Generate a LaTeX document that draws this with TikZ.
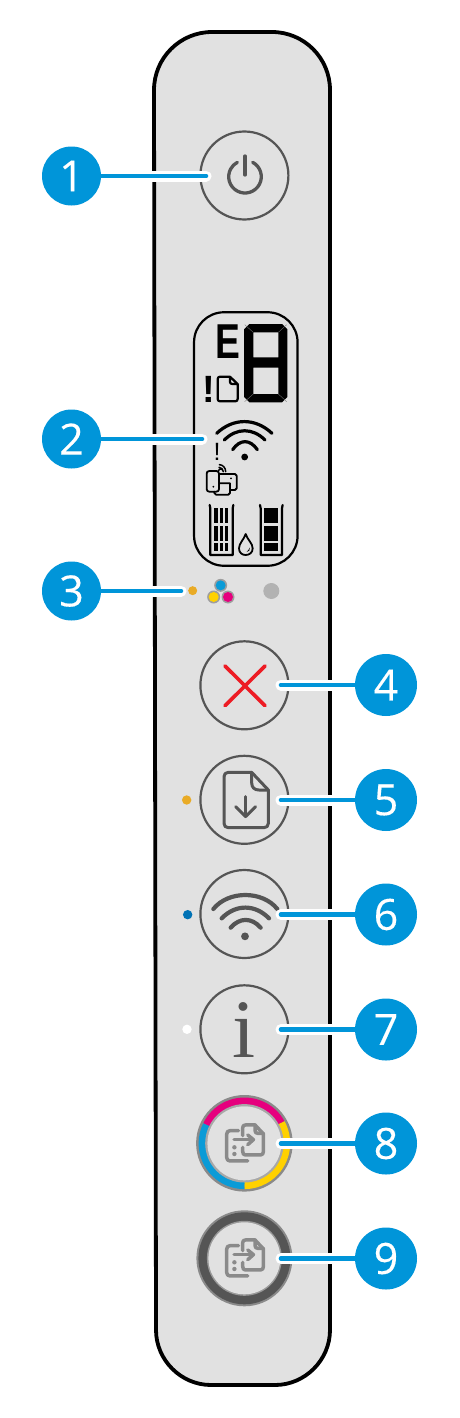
\documentclass[tikz,border=0pt]{standalone}
\usepackage{fontspec}
\newfontfamily\numfont[FakeBold=0.3]{Open Sans}
\newfontfamily\lcdfont{Liberation Sans}
\newfontfamily\infofont{Liberation Serif}
\definecolor{panelgrey}{HTML}{E1E1E1}
\definecolor{icongrey}{HTML}{555555}
\definecolor{copygrey}{HTML}{8A8A8A}
\definecolor{leadblue}{HTML}{0095D9}
\definecolor{inkorange}{HTML}{E9AB26}
\definecolor{inkcyan}{HTML}{0B9BD7}
\definecolor{inkyellow}{HTML}{FFD100}
\definecolor{inkmagenta}{HTML}{E6007E}
\definecolor{wifiblue}{HTML}{0072B5}
\definecolor{xred}{HTML}{ED1C24}
\pgfdeclarelayer{under}
\pgfdeclarelayer{lead}
\pgfsetlayers{under,lead,main}
\tikzset{
  bubbleL/.style={circle,fill=leadblue,minimum size=59pt,inner sep=0pt,text=white,font=\numfont\fontsize{43}{43}\selectfont},
  bubbleR/.style={circle,fill=leadblue,minimum size=62pt,inner sep=0pt,text=white,font=\numfont\fontsize{43}{43}\selectfont},
  btn/.style={circle,draw=icongrey,line width=2.2pt,minimum size=88pt,inner sep=0pt},
  ringbtn/.style={circle,minimum size=74pt,inner sep=0pt},
  halo/.style={draw=white,line width=11pt,line cap=round},
  leader/.style={draw=leadblue,line width=4.6pt,line cap=round},
  iconline/.style={draw=icongrey,line width=3pt,line cap=round,line join=round},
  copyline/.style={draw=copygrey,line width=3.5pt,line cap=round,line join=round},
  lcdline/.style={draw=black,line width=2.2pt,line cap=round,line join=round},
  zoomed/.style={x=0.33333pt,y=-0.33333pt},
}
\newcommand{\copyicon}[1]{%
  \begin{scope}[shift={(#1)},zoomed,shift={(-223,-173)}]
    \draw[copyline] (205,135) -- (180,135) .. controls (174,135) and (170,139) .. (170,145) -- (170,216) .. controls (170,222) and (174,226) .. (180,226) -- (233,226);
    \draw[copyline] (218,150) -- (218,126) .. controls (218,121) and (221,118) .. (226,118) -- (255,118) -- (280,145) -- (280,198) .. controls (280,204) and (277,208) .. (271,208) -- (226,208) .. controls (221,208) and (218,204) .. (218,198) -- (218,185);
    \draw[copyline] (255,118) -- (255,135) .. controls (255,140) and (258,143) .. (263,143) -- (280,143);
    \draw[copyline] (192,162) -- (250,162);
    \draw[copyline] (233,148) -- (250,162) -- (233,177);
    \fill[copygrey] (193,185) circle[radius=2.2pt] (193,205) circle[radius=2.2pt];
  \end{scope}}
\begin{document}
\begin{tikzpicture}[x=1pt,y=-1pt]
\useasboundingbox (0,0) rectangle (459,1418);
% numbered bubbles
\node[bubbleL] (n1) at (71.5,176) {1};
\node[bubbleL] (n2) at (71.5,439) {2};
\node[bubbleL] (n3) at (71.5,591) {3};
\node[bubbleR] (n4) at (386,685) {4};
\node[bubbleR] (n5) at (386,800) {5};
\node[bubbleR] (n6) at (386,914.5) {6};
\node[bubbleR] (n7) at (386,1029.5) {7};
\node[bubbleR] (n8) at (386,1143.5) {8};
\node[bubbleR] (n9) at (386,1258.5) {9};
\coordinate (e1) at (206,176);
\coordinate (e2) at (202,439);
\coordinate (e3) at (181,591);
\coordinate (e4) at (281,685);
\coordinate (e5) at (281,800);
\coordinate (e6) at (281,914.5);
\coordinate (e7) at (281,1029.5);
\coordinate (e8) at (281,1143.5);
\coordinate (e9) at (281,1258.5);
\begin{pgfonlayer}{under}
  \fill[white] (0,0) rectangle (459,1418);
  % panel
  \draw[draw=black,line width=3.8pt,fill=panelgrey] (154,90) .. controls (154,58) and (180,32) .. (212,32) -- (272,32) .. controls (304,32) and (330,58) .. (330,90) -- (330,1330) .. controls (330,1360) and (305,1385) .. (275,1385) -- (211,1385) .. controls (181,1385) and (156,1360) .. (156,1330) -- cycle;
  % buttons
  \node[btn] (b1) at (244.4,175.5) {};
  \node[btn] (b4) at (244.4,685.3) {};
  \node[btn] (b5) at (244.4,799.8) {};
  \node[btn] (b6) at (244.4,914) {};
  \node[btn] (b7) at (244.4,1029.3) {};
  \node[ringbtn] (b8) at (244.4,1143.3) {};
  \node[ringbtn] (b9) at (244.4,1258.3) {};
  % power
  \begin{scope}[shift={(245,176.7)}]
    \draw[iconline,line width=3.3pt] (62:16.3pt) arc[start angle=62,end angle=-242,radius=16.3pt];
  \end{scope}
  \draw[iconline,line width=3.3pt] (245,156) -- (245,175);
  % cancel
  \draw[draw=xred,line width=3.6pt,line cap=round] (225,666) -- (265,705.7) (265,666) -- (225,705.7);
  % resume document
  \begin{scope}[shift={(170,740)},zoomed]
    \draw[iconline] (245,97) -- (175,97) .. controls (167,97) and (162,102) .. (162,110) -- (162,250) .. controls (162,258) and (167,263) .. (175,263) -- (282,263) .. controls (290,263) and (295,258) .. (295,250) -- (295,150) -- (245,97);
    \draw[iconline] (245,97) -- (245,128) .. controls (245,142) and (253,150) .. (267,150) -- (295,150);
    \draw[iconline] (227,170) -- (227,230);
    \draw[iconline] (197,200) -- (227,230) -- (257,200);
    \fill[inkorange] (50,180) circle[radius=4.7pt];
  \end{scope}
  % wireless
  \begin{scope}[shift={(170,860)},zoomed]
    \draw[iconline,line width=4.2pt] (130,147) .. controls (175,91) and (277,91) .. (322,147);
    \draw[iconline,line width=4.2pt] (155,175) .. controls (197,132) and (255,132) .. (297,175);
    \draw[iconline,line width=4.2pt] (182,203) .. controls (209,172) and (245,172) .. (272,203);
    \fill[icongrey] (225,229) circle[radius=3.9pt];
    \fill[wifiblue] (53,164) circle[radius=4.7pt];
  \end{scope}
  % information
  \node[anchor=base,inner sep=0pt,text=icongrey,font=\infofont\fontsize{83}{83}\selectfont] (infoi) at (244.4,1057.7) {i};
  \fill[white] (187,1029.3) circle[radius=4.7pt];
  % colour copy
  \begin{scope}[shift={(b8.center)}]
    \fill[copygrey] (0,0) circle[radius=48.3pt];
    \draw[inkmagenta,line width=7pt] (154:42.3pt) arc[start angle=154,end angle=29,radius=42.3pt];
    \draw[inkyellow,line width=7pt] (29:42.3pt) arc[start angle=29,end angle=-90,radius=42.3pt];
    \draw[inkcyan,line width=7pt] (-90:42.3pt) arc[start angle=-90,end angle=-206,radius=42.3pt];
    \draw[draw=black!34,line width=2.4pt] (0,0) circle[radius=38pt];
    \fill[panelgrey] (0,0) circle[radius=37pt];
  \end{scope}
  \copyicon{b8.center}
  % black copy
  \begin{scope}[shift={(b9.center)}]
    \fill[copygrey] (0,0) circle[radius=48pt];
    \fill[icongrey] (0,0) circle[radius=46pt];
    \fill[black!40] (0,0) circle[radius=37.5pt];
    \fill[panelgrey] (0,0) circle[radius=36pt];
  \end{scope}
  \copyicon{b9.center}
  % display
  \node[draw=black,line width=2.2pt,rounded corners=30pt,minimum width=103.5pt,minimum height=253.5pt,inner sep=0pt] (lcd) at (245.8,439) {};
  \node[anchor=base west,inner sep=0pt,font=\lcdfont\bfseries\fontsize{49}{49}\selectfont] (lcdE) at (215.5,358) {\scalebox{0.76}[1]{E}};
  \node[anchor=base,inner sep=0pt,font=\lcdfont\bfseries\fontsize{38}{38}\selectfont] (lcdbang) at (209,402) {!};
  \node[anchor=base,inner sep=0pt,font=\lcdfont\fontsize{25}{25}\selectfont] (wifibang) at (217,460) {!};
  \begin{scope}[shift={(170,300)},zoomed]
    % seven-segment digit
    \fill[black,even odd rule] (238,72) -- (336,72) -- (352,88) -- (352,291) -- (336,307) -- (238,307) -- (222,291) -- (222,88) -- cycle (250,97) -- (250,172) -- (325,172) -- (325,97) -- cycle (250,203) -- (250,282) -- (325,282) -- (325,203) -- cycle;
    \draw[black!55,line width=0.35pt] (224,74) -- (250,97) (350,74) -- (325,97) (224,305) -- (250,282) (350,305) -- (325,282);
    % page glyph
    \draw[lcdline] (180,230) -- (150,230) .. controls (146,230) and (143,233) .. (143,237) -- (143,297) .. controls (143,301) and (146,304) .. (150,304) -- (196,304) .. controls (200,304) and (203,301) .. (203,297) -- (203,252) -- (180,230) -- (180,246) .. controls (180,250) and (183,252) .. (187,252) -- (203,252);
    % wifi glyph
    \draw[lcdline,line width=3.2pt] (140,400) .. controls (190,353) and (256,353) .. (306,400);
    \draw[lcdline,line width=3.2pt] (163,420) .. controls (200,383) and (248,383) .. (285,420);
    \draw[lcdline,line width=3.2pt] (188,449) .. controls (210,417) and (240,417) .. (262,449);
    \fill[black] (224,471) circle[radius=3.4pt];
    % dots under the display
    \fill[inkorange] (68,872) circle[radius=4.5pt];
    \fill[black!38] (152,856) circle[radius=6.5pt] (131,891) circle[radius=6.5pt] (174,891) circle[radius=6.5pt];
    \fill[inkcyan] (152,856) circle[radius=5pt];
    \fill[inkyellow] (131,891) circle[radius=5pt];
    \fill[inkmagenta] (174,891) circle[radius=5pt];
    \fill[black!30] (304,873) circle[radius=8pt];
  \end{scope}
  \begin{scope}[shift={(195,460)},zoomed]
    % devices glyph
    \draw[lcdline,line width=1.8pt] (43,33) -- (64,33) .. controls (69,33) and (72,36) .. (72,41) -- (72,87) .. controls (72,92) and (69,95) .. (64,95) -- (43,95) .. controls (38,95) and (35,92) .. (35,87) -- (35,41) .. controls (35,36) and (38,33) .. (43,33);
    \draw[lcdline,line width=1.8pt] (72,42) -- (120,42) .. controls (123,42) and (125,44) .. (125,47) -- (125,85) .. controls (125,88) and (123,90) .. (120,90) -- (105,90);
    \draw[lcdline,line width=1.8pt] (72,70) -- (105,70) -- (105,99) .. controls (105,102) and (103,104) .. (100,104) -- (63,104) .. controls (60,104) and (58,102) .. (58,99) -- (58,95);
    \fill[black] (55,80) circle[radius=1pt] (108,55) circle[radius=1pt];
    \draw[lcdline,line width=1.5pt] (70,33) .. controls (71,27) and (76,25) .. (80,28);
    \draw[lcdline,line width=1.5pt] (72,22) .. controls (78,22) and (85,28) .. (85,35);
    \draw[lcdline,line width=1.5pt] (73,14) .. controls (84,14) and (92,24) .. (92,35);
    % tanks
    \draw[lcdline] (44,135) -- (46,145) -- (46,285) -- (113,285) -- (113,145) -- (115,135);
    \draw[lcdline] (195,135) -- (197,145) -- (197,285) -- (261,285) -- (261,145) -- (263,135);
    \foreach \cx in {58,73.5,89} \foreach \ya/\yb in {145/190,197/242,250/272}
      \fill[black] (\cx,\ya) rectangle (\cx+11,\yb);
    \foreach \ya/\yb in {145/190,197/242,250/272}
      \fill[black] (207,\ya) rectangle (250,\yb);
    % drop
    \draw[lcdline,line width=1.8pt] (152,222) .. controls (146,240) and (132,250) .. (132,265) .. controls (132,278) and (141,285) .. (152,285) .. controls (163,285) and (173,278) .. (173,265) .. controls (173,250) and (158,240) .. (152,222);
    \fill[black] (165,262) .. controls (166,270) and (161,276) .. (155,276) .. controls (159,272) and (162,268) .. (165,262);
  \end{scope}
\end{pgfonlayer}
\begin{pgfonlayer}{lead}
  \foreach \i in {1,...,9} {
    \path[halo] (n\i.center) -- (e\i);
    \path[leader] (n\i.center) -- (e\i);
  }
\end{pgfonlayer}
\end{tikzpicture}
\end{document}
